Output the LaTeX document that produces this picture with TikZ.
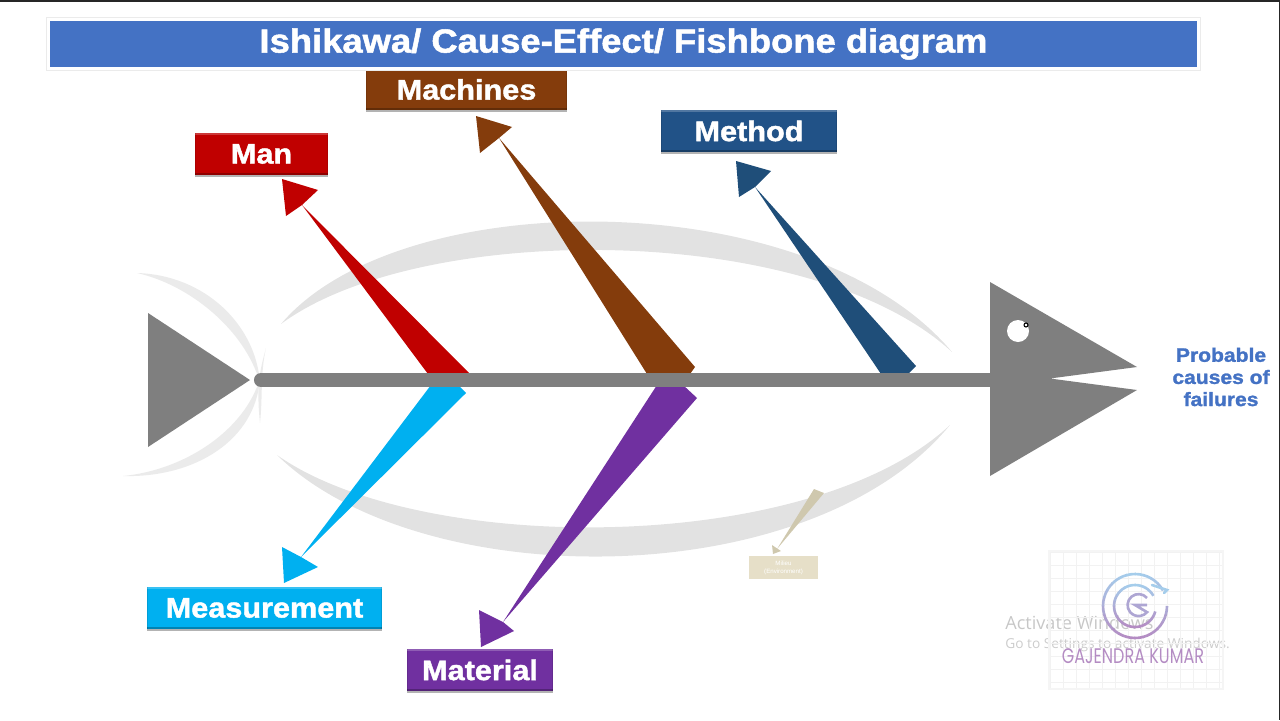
\documentclass[tikz,border=0pt]{standalone}
\usepackage{fontspec}
\setsansfont{Liberation Sans}[BoldFeatures={FakeBold=1.5,FakeStretch=1.09}]
\newfontfamily\winfont{Open Sans}
\newfontfamily\markfont[FakeStretch=0.76]{Poppins}
\usetikzlibrary{shadows}
\definecolor{titleblue}{HTML}{4472C4}
\definecolor{spinegray}{HTML}{7F7F7F}
\definecolor{ribgray}{HTML}{E2E2E2}
\definecolor{tailgray}{HTML}{EBEBEB}
\definecolor{manred}{HTML}{C00000}
\definecolor{machbrown}{HTML}{843C0C}
\definecolor{methblue}{HTML}{1F4E79}
\definecolor{methbox}{HTML}{215287}
\definecolor{measblue}{HTML}{00B0F0}
\definecolor{matpurple}{HTML}{7030A0}
\definecolor{envtan}{HTML}{E6DFC8}
\definecolor{envwedge}{HTML}{CFC8AE}
\definecolor{logoblue}{HTML}{A5CDEB}
\definecolor{logopurple}{HTML}{B48CC3}
\tikzset{
  labelbox/.style={rectangle,fill=#1,inner sep=0pt,text=white,
    font=\sffamily\bfseries\fontsize{16}{18}\selectfont,
    drop shadow={shadow xshift=0.2pt,shadow yshift=-1pt,opacity=0.6},
    path picture={
      \fill[white,opacity=0.22] (path picture bounding box.north west) rectangle ([yshift=-1.2pt]path picture bounding box.north east);
      \fill[black,opacity=0.25] (path picture bounding box.south west) rectangle ([yshift=1.2pt]path picture bounding box.south east);
      \fill[black,opacity=0.1] (path picture bounding box.south west) rectangle ([xshift=0.8pt]path picture bounding box.north west);
      \fill[black,opacity=0.1] (path picture bounding box.south east) rectangle ([xshift=-0.8pt]path picture bounding box.north east);
    }},
  bone/.style={fill=#1},
  gridline/.style={draw=black!5,line width=0.3pt}
}
\begin{document}
\begin{tikzpicture}[x=0.02cm,y=-0.02cm]
\useasboundingbox (0,0) rectangle (1280,720);
\fill[black!85] (0,0) rectangle (1280,1.5);
\fill[black!85] (1278.8,0) rectangle (1280,720);
\fill[ribgray] (281,324) .. controls (400,183) and (810,183) .. (952,352) .. controls (810,221) and (420,221) .. (281,324) -- cycle;
\fill[ribgray] (277,455) .. controls (420,595) and (810,595) .. (950,425) .. controls (810,556) and (420,556) .. (277,455) -- cycle;
\fill[tailgray] (137,273) .. controls (205,275) and (256,325) .. (260,383) .. controls (245,330) and (190,285) .. (137,273) -- cycle;
\fill[tailgray] (123,476) .. controls (195,478) and (256,440) .. (260,378) .. controls (245,430) and (185,470) .. (123,476) -- cycle;
\fill[tailgray] (266,348) .. controls (260,370) and (256,385) .. (260,423) .. controls (263,395) and (260,375) .. (266,348) -- cycle;
\coordinate (mantip) at (282,179);
\coordinate (machtip) at (476,116);
\coordinate (methtip) at (736,161);
\coordinate (meastip) at (284,583);
\coordinate (mattip) at (481,647);
\coordinate (envtip) at (772,545);
\fill[bone=manred] (mantip) -- (318,190) -- (302,205) -- (470,374) -- (428,374) -- (302,205) -- (286,216) -- cycle;
\fill[bone=machbrown] (machtip) -- (512,127) -- (499,138) -- (695,367) -- (690,374) -- (647,374) -- (499,138) -- (480,153) -- cycle;
\fill[bone=methblue] (methtip) -- (771,171) -- (755,187) -- (916,366) -- (908,374) -- (881,374) -- (755,187) -- (739,197) -- cycle;
\fill[bone=measblue] (meastip) -- (318,567) -- (301,557) -- (466,393) -- (458,385) -- (431,385) -- (301,557) -- (282,547) -- cycle;
\fill[bone=matpurple] (mattip) -- (514,631) -- (503,622) -- (697,398) -- (683,385) -- (657,385) -- (503,622) -- (479,610) -- cycle;
\fill[bone=envwedge] (envtip) -- (781,551) -- (773,554) -- cycle;
\fill[bone=envwedge] (777,549) -- (824,493) -- (814,489) -- cycle;
\coordinate (spinestart) at (261,380);
\coordinate (spineend) at (995,380);
\draw[spinegray,line width=8pt,line cap=round] (spinestart) -- (spineend);
\fill[spinegray] (148,313) -- (250,380) -- (148,447) -- cycle;
\fill[spinegray] (990,282) -- (1137,367) -- (1050,378.5) -- (1137,390) -- (990,476) -- cycle;
\fill[white] (1018,331) circle (11);
\draw[black,fill=white,line width=0.6pt] (1026,325) circle (2);
\draw(466.5,89.5) node[labelbox=machbrown,minimum width=4.02cm,minimum height=0.82cm] (machines) {Machines};
\fill[black!8] (46,17) rectangle (1201,71);
\draw(623.5,44) node[rectangle,fill=titleblue,draw=white,line width=1.7pt,minimum width=23cm,minimum height=0.98cm,inner sep=0pt,text=white,font=\sffamily\bfseries\fontsize{19}{22}\selectfont] (title) {Ishikawa/ Cause-Effect/ Fishbone diagram};
\draw(261.5,154) node[labelbox=manred,minimum width=2.66cm,minimum height=0.84cm] (man) {Man};
\draw(749,131) node[labelbox=methbox,minimum width=3.52cm,minimum height=0.84cm] (method) {Method};
\draw(264.5,608) node[labelbox=measblue,minimum width=4.7cm,minimum height=0.84cm] (measurement) {Measurement};
\draw(480,670) node[labelbox=matpurple,minimum width=2.92cm,minimum height=0.84cm] (material) {Material};
\draw(783.5,567.5) node[fill=envtan,minimum width=1.38cm,minimum height=0.46cm,inner sep=0pt,text=white,align=center,font=\sffamily\fontsize{3.5}{4.5}\selectfont] (environment) {Milieu\\(Environment)};
\draw(1221,377) node[text=titleblue,align=center,font=\sffamily\bfseries\fontsize{11}{12.6}\selectfont] (effect) {Probable\\causes of\\failures};
\draw(1005,623) node[anchor=west,inner sep=0pt,text=black!22,font=\winfont\fontsize{10.3}{12}\selectfont] (activate) {Activate Windows};
\draw(1005,645) node[anchor=west,inner sep=0pt,text=black!20,font=\winfont\fontsize{7.8}{9}\selectfont] (gosettings) {Go to Settings to activate Windows.};
\foreach \gx in {1050,1063,...,1222} \draw[gridline] (\gx,552) -- (\gx,688);
\foreach \gy in {552,565,...,688} \draw[gridline] (1050,\gy) -- (1222,\gy);
\draw[black!4,line width=1pt] (1049,551) rectangle (1223,689);
\foreach \a in {-360,-345,...,-40} {
  \pgfmathsetmacro{\mixval}{50-50*sin(\a+7.5)}
  \draw[logoblue!\mixval!logopurple,line width=1.5pt] (1135,606)+(\a:32) arc (\a:\a+16:32);
}
\foreach \a in {-345,-330,...,-45} {
  \pgfmathsetmacro{\mixval}{50-50*sin(\a+7.5)}
  \draw[logoblue!\mixval!logopurple,line width=1.5pt] (1135,606)+(\a:21) arc (\a:\a+16:21);
}
\draw[logoblue,line width=1.5pt,line cap=round] (1164,593) -- (1167,590) -- (1152,585);
\draw[logopurple!60!logoblue,line width=1.5pt] (1147,598) arc (-40:-320:11) -- (1135,605) -- (1147,605);
\draw(1133,656) node[inner sep=0pt,text=logopurple,font=\markfont\fontsize{12}{14}\selectfont] (watermark) {GAJENDRA KUMAR};
\end{tikzpicture}
\end{document}
